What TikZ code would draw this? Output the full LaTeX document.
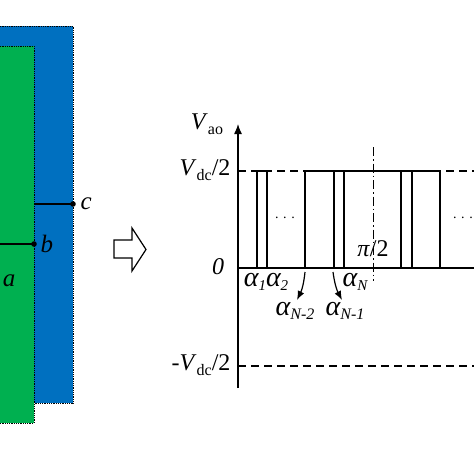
\documentclass[tikz,border=0pt]{standalone}
\usepackage{fontspec}
\setmainfont{Liberation Serif}
\usepackage{tikz}
\usetikzlibrary{arrows.meta, positioning, calc}
\definecolor{legblue}{RGB}{0,112,192}
\definecolor{leggreen}{RGB}{0,176,80}
\newcommand{\lsub}[2][16]{\raisebox{-0.45ex}{\fontsize{#1}{#1}\selectfont #2}}
\newcommand{\asub}[2][15]{\raisebox{-0.3ex}{\fontsize{#1}{#1}\selectfont #2}}

\begin{document}
\begin{tikzpicture}[x=1pt, y=-1pt, font=\fontsize{24}{26}\selectfont,
    leg/.style={draw=black, densely dotted, line width=0.8pt},
    lvl/.style={line width=1.1pt},
    lvldash/.style={line width=1.1pt, dash pattern=on 8pt off 5pt},
    angle/.style={font=\fontsize{28}{30}\selectfont\itshape, inner sep=0pt, anchor=north},
    edge/.style={line width=1.1pt}]
    \useasboundingbox (0,0) rectangle (474,474);
    \fill[legblue] (-2,26) rectangle (73,403);
    \draw[leg] (-2,26) -| (73,403) -- (-2,403);
    \fill[leggreen] (-2,46) rectangle (34,423);
    \draw[leg] (-2,46) -| (34,423) -- (-2,423);
    \coordinate (pb) at (34,244);
    \coordinate (pc) at (73,204);
    \draw[line width=1.2pt] (-2,244) -- (pb);
    \draw[line width=1.2pt] (34,204) -- (pc);
    \fill (pb) circle (2.8pt);
    \fill (pc) circle (2.8pt);
    \node[font=\fontsize{25}{25}\selectfont\itshape, right=4pt of pc] (lc) {c};
    \node[font=\fontsize{25}{25}\selectfont\itshape, right=3pt of pb] (lb) {b};
    \node[font=\fontsize{25}{25}\selectfont\itshape] (la) at (9,281) {a};
    \draw[line width=1.2pt, fill=white] (114,240) -- (132,240) -- (132,228) -- (146,249.5) -- (132,271) -- (132,258) -- (114,258) -- cycle;
    \coordinate (o) at (238,268);
    \draw[lvldash] (238,171) -- (474,171);
    \draw[lvldash] (238,366) -- (474,366);
    \draw[lvl] (o) -- (474,268);
    \draw[lvl] (257,171) -- (267,171);
    \draw[lvl] (305,171) -- (440,171);
    \foreach \px in {257,267,305,334,344,401,412,440}
        \draw[edge] (\px,268) -- (\px,171);
    \draw[line width=1pt, dash pattern=on 9pt off 3pt on 1.5pt off 3pt] (373,147) -- (373,281);
    \draw[line width=1.3pt, -{Latex[length=10pt, width=8pt]}] (238,388) -- (238,124);
    \node (vao) at (207,124) {\textit{V}\lsub{ao}};
    \node[anchor=east] (vtop) at (234,170) {\textit{V}\lsub{dc}/2};
    \node[anchor=east] (vbot) at (234,365) {-\textit{V}\lsub{dc}/2};
    \node (zero) at (218,267) {\itshape 0};
    \node (half) at (373,249) {\textit{π}/2};
    \node (dots1) at (285,218) {\fontsize{14}{14}\selectfont . . .};
    \node (dots2) at (463,218) {\fontsize{14}{14}\selectfont . . .};
    \node[angle] (a12) at (266,273) {α\asub{1}α\asub{2}};
    \node[angle] (aN) at (355,273) {α\asub{N}};
    \node[angle] (aN2) at (295,302) {α\asub[16]{N-2}};
    \node[angle] (aN1) at (345,302) {α\asub[16]{N-1}};
    \coordinate (e3) at (305,272);
    \coordinate (e4) at (333,272);
    \draw[line width=1.2pt, -{Latex[length=9pt, width=7pt]}] (e3) to[bend left=10] (297,300);
    \draw[line width=1.2pt, -{Latex[length=9pt, width=7pt]}] (e4) to[bend right=10] (342,300);
\end{tikzpicture}
\end{document}
